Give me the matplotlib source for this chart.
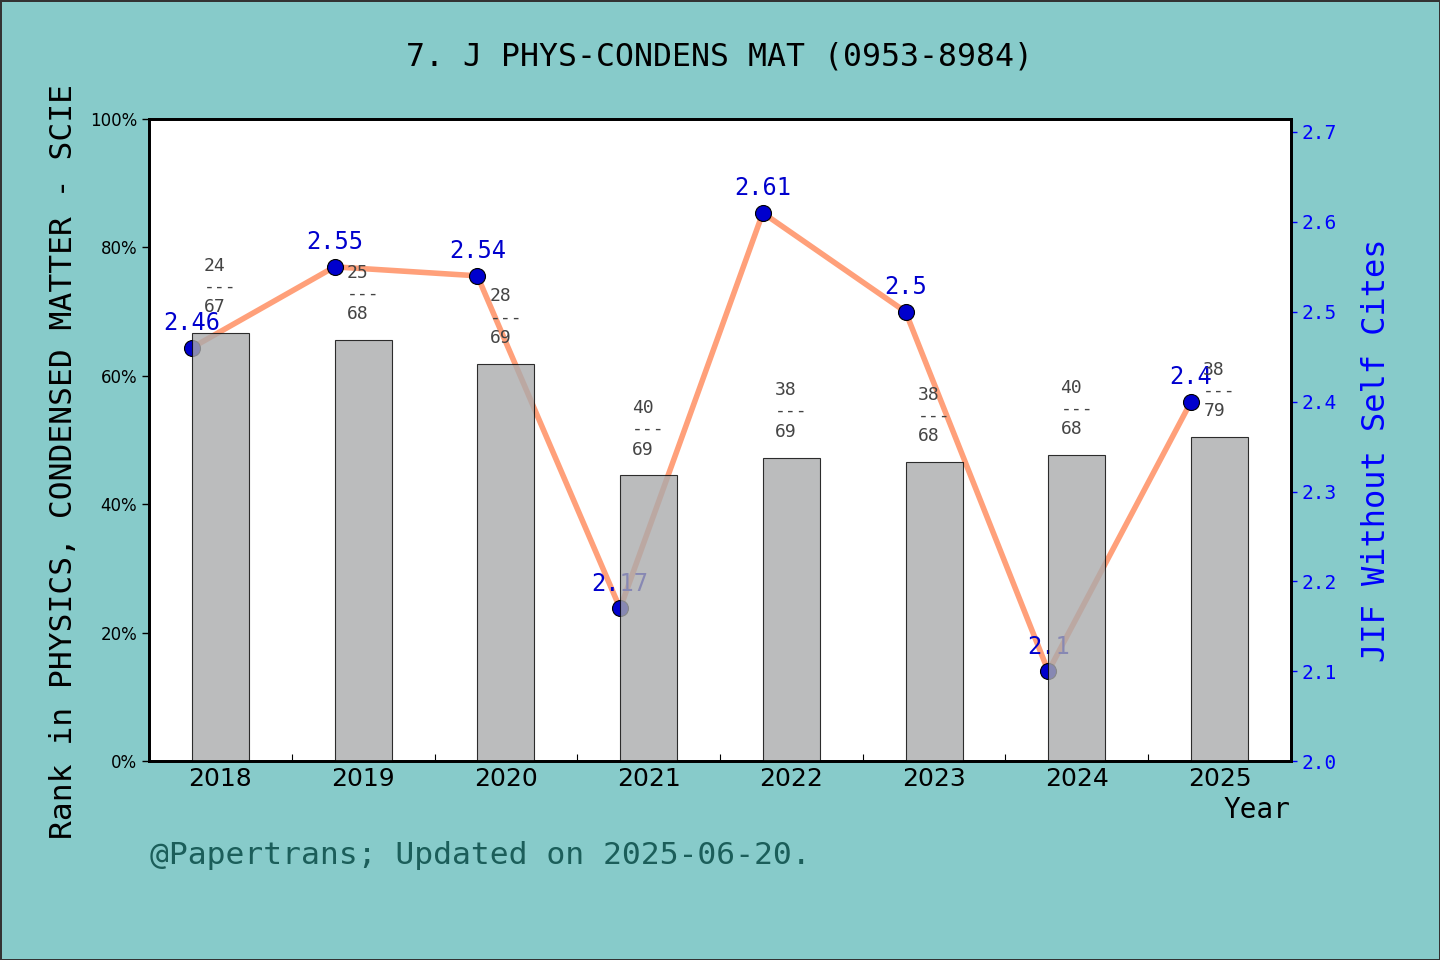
import numpy as np
import matplotlib
matplotlib.use('Agg')
import matplotlib.pyplot as plt
from matplotlib.ticker import FuncFormatter, MultipleLocator

# data
years = ['2018', '2019', '2020', '2021', '2022', '2023', '2024', '2025']
rank_pct = [66.7, 65.6, 61.9, 44.5, 47.3, 46.6, 47.7, 50.5]
ranks = [24, 25, 28, 40, 38, 38, 40, 38]
totals = [67, 68, 69, 69, 69, 68, 68, 79]
jif = [2.46, 2.55, 2.54, 2.17, 2.61, 2.5, 2.1, 2.4]

bg = '#87CBCA'
mono = 'DejaVu Sans Mono'

fig = plt.figure(figsize=(14.4, 9.6), dpi=100, facecolor=bg,
                 edgecolor='#333333', linewidth=1)
ax = fig.add_axes([0.1035, 0.207, 0.793, 0.669])
ax2 = ax.twinx()

# bars go on top of the line axis (line shows through the semi-transparent bars)
ax.set_zorder(ax2.get_zorder() + 1)
ax.patch.set_visible(False)
ax2.patch.set_visible(True)
ax2.set_facecolor('white')

x = np.arange(len(years))
xl = x - 0.2  # line points sit on the left edge of each bar

# line + markers on the right axis
ax2.plot(xl, jif, color='#FFA07A', lw=4, zorder=2)
ax2.plot(xl, jif, 'o', color='#0000CD', mec='black', mew=0.8, ms=11.5, zorder=3)
for xi, v in zip(xl, jif):
    ax2.annotate(f'{v:g}', (xi, v), xytext=(0, 9), textcoords='offset points',
                 ha='center', va='bottom', color='#0000CD', fontsize=17, family=mono)
ax2.set_ylim(2.0, max(jif) * 1.04)
ax2.yaxis.set_major_locator(MultipleLocator(0.1))
ax2.yaxis.set_major_formatter(FuncFormatter(lambda v, p: f'{v:.1f}'))
ax2.tick_params(axis='y', colors='#0000FF', labelsize=14, length=4, width=1)
for lab in ax2.get_yticklabels():
    lab.set_family(mono)
ax2.set_ylabel('JIF Without Self Cites', color='#0000FF', fontsize=23, family=mono)
ax2.yaxis.set_label_coords(1.061, 0.484)

# bars on the left axis
ax.bar(x, rank_pct, width=0.4, color='#AAABAD', alpha=0.8, edgecolor='black',
       linewidth=0.8, zorder=2)
for xi, h, r, t in zip(x, rank_pct, ranks, totals):
    ax.text(xi, h + 2.6, f'{r}\n---\n{t}', ha='center', va='bottom',
            multialignment='left', color='#444444', fontsize=13, family=mono,
            zorder=3)

ax.set_xlim(-0.5, 7.5)
ax.set_ylim(0, 100)
ax.set_xticks(x)
ax.set_xticklabels(years, fontsize=18)
ax.set_xticks(x[:-1] + 0.5, minor=True)
ax.tick_params(axis='x', which='major', length=0, pad=4)
ax.tick_params(axis='x', which='minor', direction='in', length=5, width=0.8)
ax.set_yticks(np.arange(0, 101, 20))
ax.yaxis.set_major_formatter(FuncFormatter(lambda v, p: f'{v:.0f}%'))
ax.tick_params(axis='y', labelsize=12, length=5, width=1)
ax.set_ylabel('Rank in PHYSICS, CONDENSED MATTER - SCIE', fontsize=22.5, family=mono)
ax.yaxis.set_label_coords(-0.062, 0.466)

for a in (ax, ax2):
    for s in a.spines.values():
        s.set_linewidth(2)

ax.set_xlabel('Year', fontsize=20, family=mono, loc='right', labelpad=4)

fig.text(0.5, 0.941, '7. J PHYS-CONDENS MAT (0953-8984)', ha='center', va='center',
         fontsize=22.7, family=mono)
fig.text(0.104, 0.109, '@Papertrans; Updated on 2025-06-20.', ha='left', va='center',
         fontsize=22.6, family=mono, color='#1B5E5A')

fig.savefig('out.png', dpi=100, facecolor=bg, edgecolor='#333333')
